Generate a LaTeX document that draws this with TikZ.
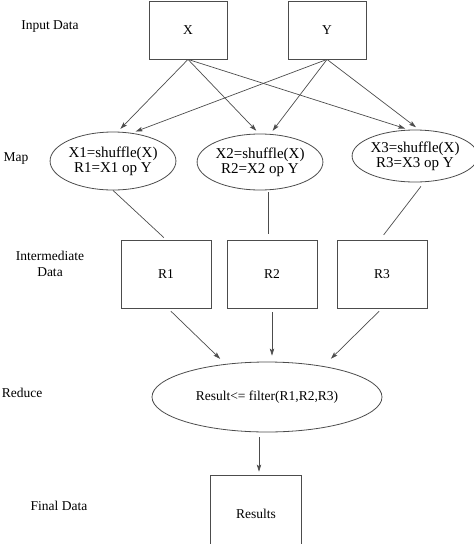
\documentclass[tikz,border=0pt]{standalone}
\usepackage{fontspec}
\setmainfont{Liberation Serif}
\usetikzlibrary{shapes.geometric,arrows.meta}

\begin{document}
\begin{tikzpicture}[x=1pt, y=-1pt,
  every node/.style = {align=center,
    font=\fontsize{13.5}{16.5}\selectfont},
  box/.style = {shape=rectangle, draw=black!70, line width=0.8pt},
  oval/.style = {shape=ellipse, draw=black!70, line width=0.8pt,
    inner sep=0pt},
  map/.style = {oval, font=\fontsize{15}{15}\selectfont},
  link/.style = {draw=black!70, line width=0.7pt},
  arr/.style = {link, shorten >=4pt,
    -{Stealth[length=7pt,width=4.5pt,inset=1.5pt]}}]
  \useasboundingbox (0,0) rectangle (474,544);
  \node (lin) at (50,27) {Input Data};
  \node (lmap) at (16,159) {Map};
  \node (linter) at (50,264) {Intermediate\\Data};
  \node (lred) at (22,393) {Reduce};
  \node (lfin) at (59,506) {Final Data};
  \node[box, minimum width=78, minimum height=58] (x) at (188,30) {X};
  \node[box, minimum width=78, minimum height=58] (y) at (327,30) {Y};
  \node[map, minimum width=108, minimum height=58] (e1) at (113,161)
    {X1=shuffle(X)\\R1=X1 op Y};
  \node[map, minimum width=106, minimum height=56] (e2) at (260,162)
    {X2=shuffle(X)\\R2=X2 op Y};
  \node[map, minimum width=106, minimum height=52] (e3) at (415,156)
    {X3=shuffle(X)\\R3=X3 op Y};
  \node[box, minimum width=90, minimum height=68] (r1) at (166,274) {R1};
  \node[box, minimum width=90, minimum height=68] (r2) at (272,274) {R2};
  \node[box, minimum width=90, minimum height=68] (r3) at (382,274) {R3};
  \node[oval, minimum width=230, minimum height=70] (red) at (267,397)
    {Result<= filter(R1,R2,R3)};
  \node[box, minimum width=91, minimum height=78] (res) at (256,514)
    {Results};
  \draw[arr] (x.south) -- (e1.81);
  \draw[arr] (x.south) -- (e2.92);
  \draw[arr] (x.south) -- (e3.103);
  \draw[arr] (y.south) -- (e1.56);
  \draw[arr] (y.south) -- (e2.70);
  \draw[arr] (y.south) -- (e3.81);
  \draw[link, shorten >=3pt] (e1.south) -- (r1.north);
  \draw[link, shorten >=6pt, shorten <=2pt] ([xshift=8]e2.south)
    -- ([xshift=-4]r2.north);
  \draw[link, shorten >=6pt, shorten <=5pt] ([xshift=9]e3.south)
    -- ([xshift=-2]r3.north);
  \draw[arr, shorten <=4pt] ([xshift=2]r1.south) -- ([xshift=-44]red.north);
  \draw[arr, shorten <=4pt, shorten >=6pt] (r2.south) -- ([xshift=5]red.north);
  \draw[arr, shorten <=4pt] (r3.south) -- ([xshift=61]red.north);
  \draw[arr, shorten <=5pt, shorten >=3pt] ([xshift=-8]red.south)
    -- ([xshift=3]res.north);
\end{tikzpicture}
\end{document}
